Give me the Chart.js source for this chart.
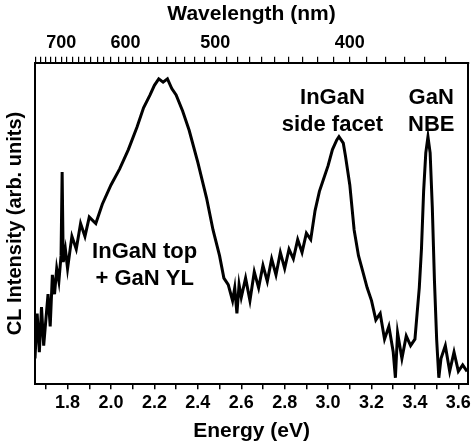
<!DOCTYPE html>
<html>
<head>
<meta charset="utf-8">
<script src="https://cdn.jsdelivr.net/npm/chart.js@4/dist/chart.umd.min.js"></script>
<style>
  body { margin: 0; background: #fff; }
  #wrap { width: 474px; height: 444px; }
</style>
</head>
<body>
<div id="wrap"><canvas id="cl"></canvas></div>
<script>
'use strict';

// energy (eV) and CL intensity (arb. units, 0-100)
var energy = [1.65,1.66,1.67,1.68,1.69,1.70,1.71,1.72,1.73,1.74,1.75,1.76,1.77,1.775,1.78,1.79,1.80,1.82,1.84,1.86,1.88,1.90,1.93,1.96,2.00,2.04,2.08,2.12,2.15,2.18,2.20,2.22,2.24,2.26,2.28,2.30,2.33,2.36,2.40,2.44,2.47,2.50,2.52,2.54,2.56,2.57,2.58,2.59,2.60,2.62,2.64,2.66,2.68,2.70,2.72,2.74,2.76,2.78,2.80,2.82,2.84,2.86,2.88,2.90,2.92,2.94,2.96,2.98,3.00,3.02,3.04,3.05,3.06,3.07,3.08,3.10,3.12,3.14,3.16,3.18,3.20,3.22,3.24,3.26,3.28,3.30,3.31,3.32,3.34,3.36,3.38,3.40,3.41,3.42,3.43,3.44,3.45,3.46,3.47,3.48,3.49,3.50,3.51,3.52,3.54,3.56,3.58,3.60,3.62,3.64];
var intensity = [8,22,10,24,12,20,28,18,34,28,36,32,40,66,38,42,36,46,42,50,46,52,50,56,62,67,73,80,86,90,93,95,94,95,92,90,85,79,69,58,48,40,33,31,26,30,22,31,27,33,26,35,30,37,32,39,34,41,36,42,39,45,41,47,45,54,60,64,68,73,76,77,76,75,71,62,48,40,35,30,26,20,22,14,18,10,2,16,8,15,12,14,22,30,42,60,72,77,72,55,32,14,2,8,12,4,10,4,6,4];

var xMin = 1.65, xMax = 3.645;
var energyTicks = [1.7,1.8,1.9,2.0,2.1,2.2,2.3,2.4,2.5,2.6,2.7,2.8,2.9,3.0,3.1,3.2,3.3,3.4,3.5,3.6];
var wavelengthLabels = [700, 600, 500, 400];
var wavelengthMinor = [];
for (var w = 350; w <= 750; w += 10) wavelengthMinor.push(w);

var font = { family: '"Liberation Sans", Arial, sans-serif', weight: 'bold' };

var labelsPlugin = {
  id: 'peakLabels',
  afterDatasetsDraw: function(chart) {
    var ctx = chart.ctx, xs = chart.scales.x, ys = chart.scales.y;
    var notes = [
      [2.155, 41, ['InGaN top', '+ GaN YL']],
      [3.02, 89, ['InGaN', 'side facet']],
      [3.475, 89, ['GaN', 'NBE']]
    ];
    ctx.save();
    ctx.fillStyle = '#000';
    ctx.font = 'bold 22px "Liberation Sans", Arial, sans-serif';
    ctx.textAlign = 'center';
    ctx.textBaseline = 'middle';
    notes.forEach(function(n) {
      var px = xs.getPixelForValue(n[0]), py = ys.getPixelForValue(n[1]);
      n[2].forEach(function(t, i) { ctx.fillText(t, px, py + i * 27); });
    });
    ctx.restore();
  }
};

new Chart(document.getElementById('cl'), {
  type: 'line',
  data: {
    datasets: [{
      data: energy.map(function(e, i) { return { x: e, y: intensity[i] }; }),
      borderColor: '#000',
      borderWidth: 3,
      pointRadius: 0,
      tension: 0
    }]
  },
  options: {
    responsive: true,
    maintainAspectRatio: false,
    animation: false,
    layout: { padding: { right: 0, top: 2, left: 3, bottom: 0 } },
    plugins: { legend: { display: false }, tooltip: { enabled: false } },
    scales: {
      x: {
        type: 'linear', min: xMin, max: xMax,
        border: { color: '#000', width: 2 },
        grid: { drawOnChartArea: false, color: '#000', tickLength: 5, lineWidth: 1.5 },
        ticks: {
          autoSkip: false, color: '#000', font: Object.assign({ size: 18 }, font), padding: 3, maxRotation: 0,
          callback: function(v) {
            var k = Math.round(v * 10);
            return k % 2 === 0 ? (k / 10).toFixed(1) : '';
          }
        },
        afterBuildTicks: function(s) {
          s.ticks = energyTicks.map(function(e) { return { value: e }; });
        },
        title: { display: true, text: 'Energy (eV)', color: '#000', font: Object.assign({ size: 21 }, font), padding: { top: 2, bottom: 0 } }
      },
      x2: {
        type: 'linear', position: 'top', min: xMin, max: xMax,
        border: { color: '#000', width: 2 },
        grid: { drawOnChartArea: false, color: '#000', tickLength: 6, lineWidth: 1.2 },
        ticks: {
          color: '#000', font: Object.assign({ size: 18 }, font), padding: 3, maxRotation: 0, autoSkip: false,
          callback: function(v) {
            var wl = Math.round(1240 / v);
            return wavelengthLabels.indexOf(wl) >= 0 ? String(wl) : '';
          }
        },
        afterBuildTicks: function(s) {
          s.ticks = wavelengthMinor.map(function(wl) { return { value: 1240 / wl }; })
            .filter(function(t) { return t.value >= xMin && t.value <= xMax; });
        },
        title: { display: true, text: 'Wavelength (nm)', color: '#000', font: Object.assign({ size: 21 }, font), padding: { top: 0, bottom: 2 } }
      },
      y: {
        min: 0, max: 100,
        border: { color: '#000', width: 2 },
        grid: { drawOnChartArea: false, color: '#000', tickLength: 0 },
        ticks: { stepSize: 25, callback: function() { return ''; }, padding: 0 },
        title: { display: true, text: 'CL Intensity (arb. units)', color: '#000', font: Object.assign({ size: 20 }, font), padding: { top: 0, bottom: 8 } }
      },
      y2: {
        position: 'right', min: 0, max: 100,
        border: { color: '#000', width: 2 },
        grid: { drawOnChartArea: false, color: '#000', tickLength: 0 },
        ticks: { stepSize: 25, callback: function() { return ''; }, padding: 0 }
      }
    }
  },
  plugins: [labelsPlugin]
});
</script>
</body>
</html>
